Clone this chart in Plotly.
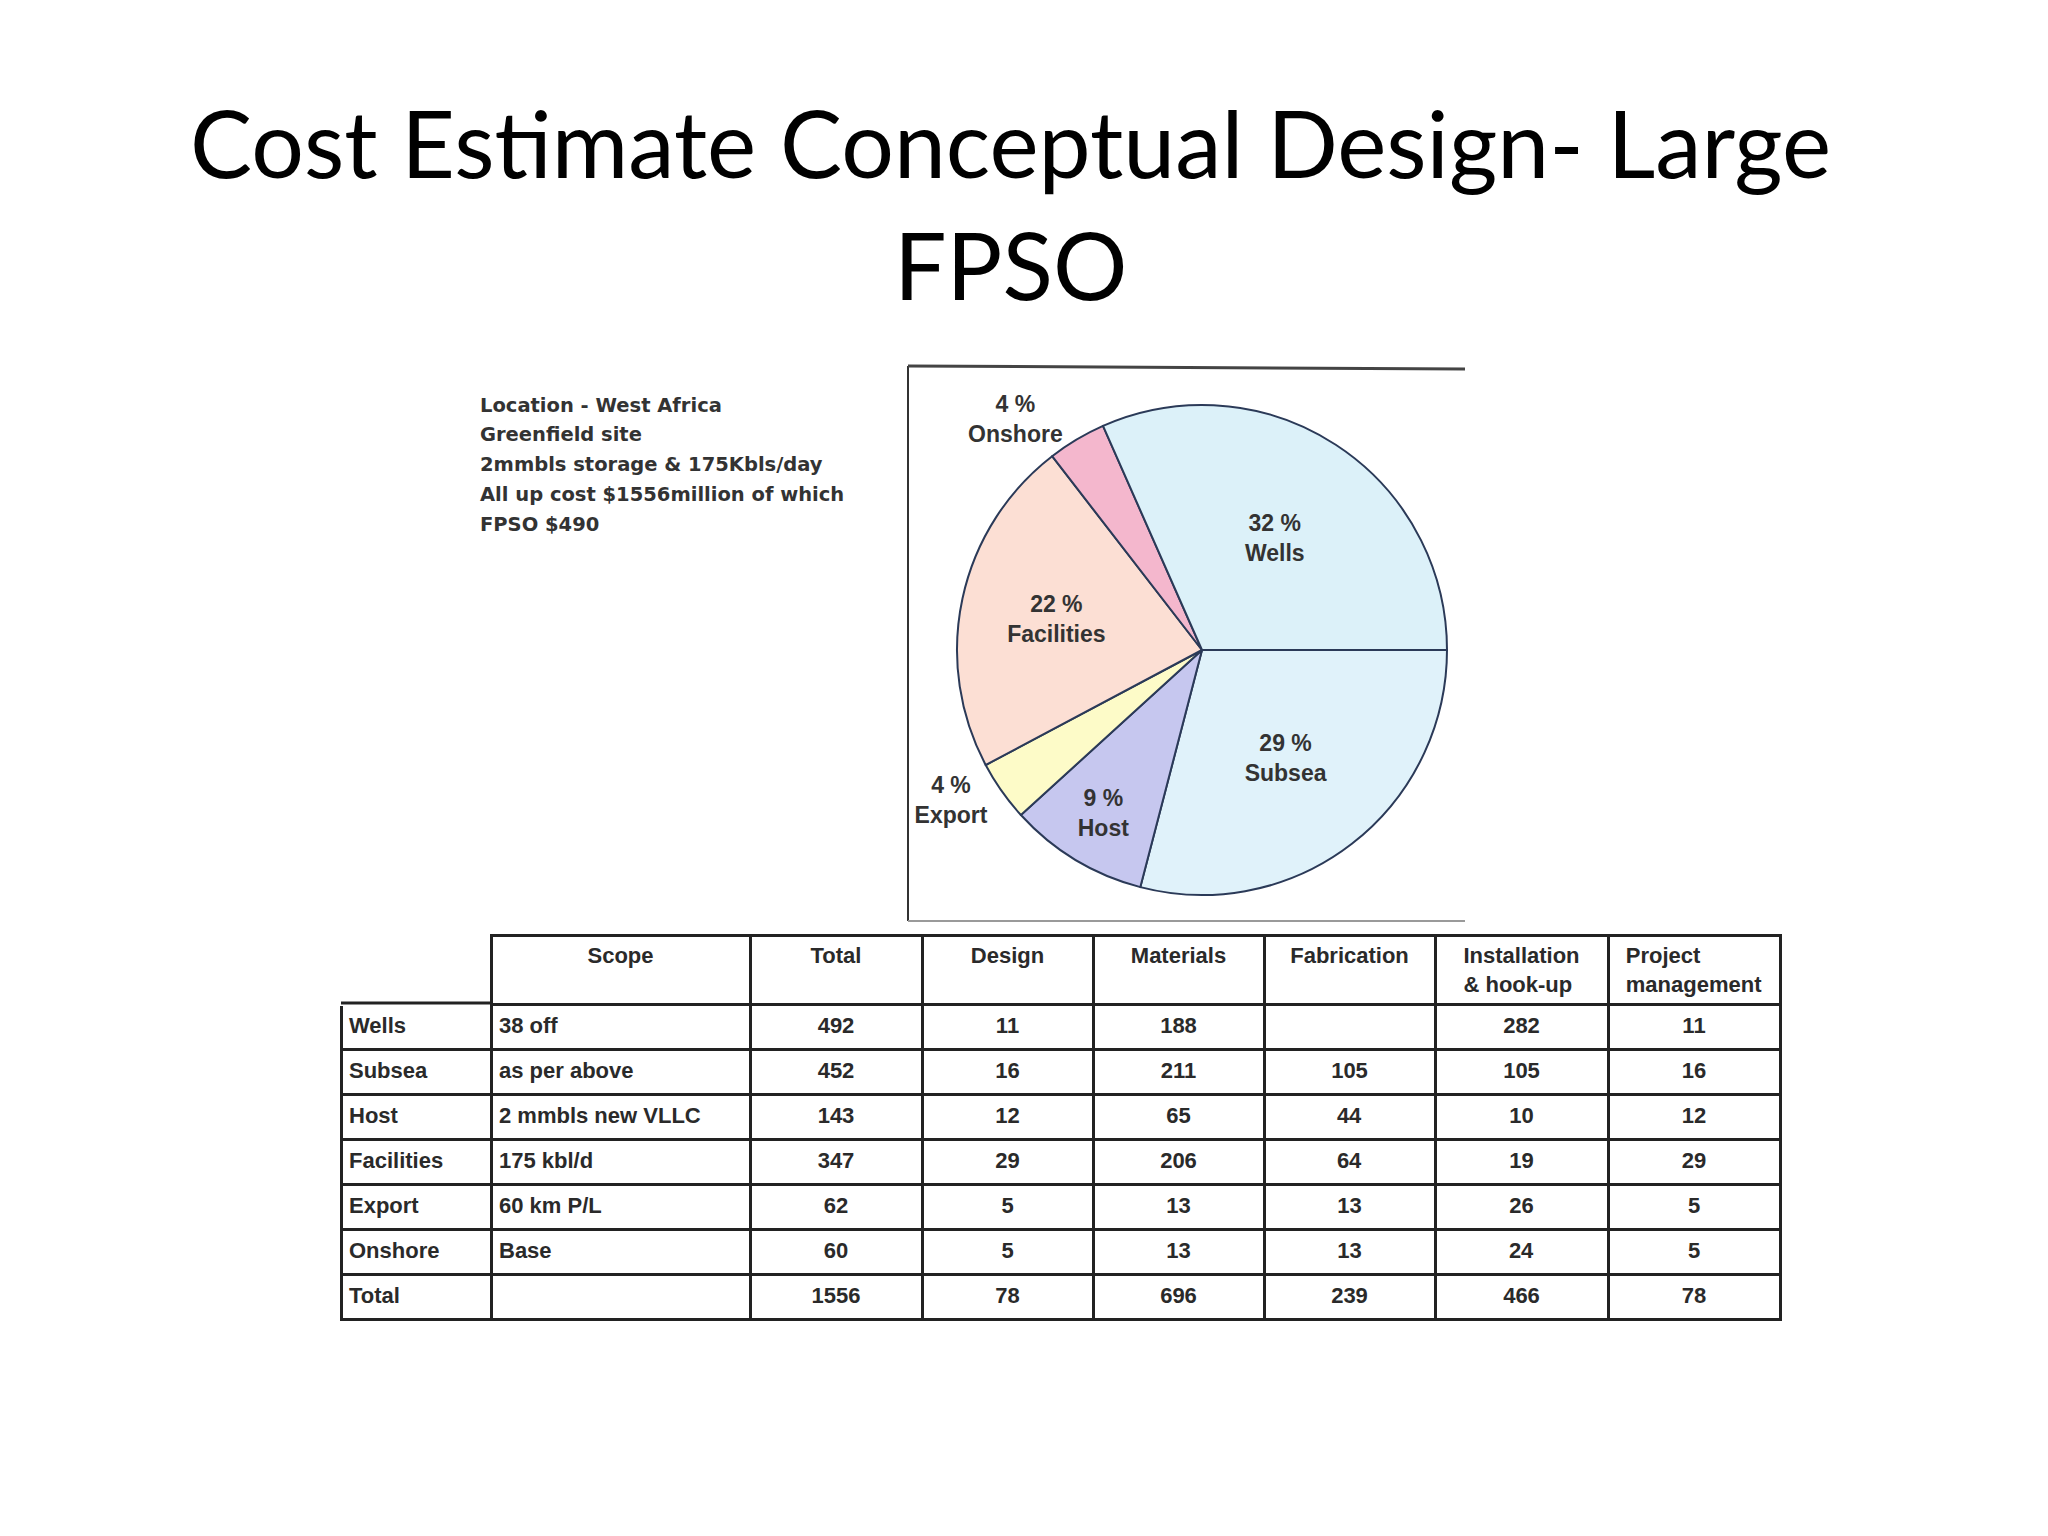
import plotly.graph_objects as go

W, H = 2048, 1536

# ---------------- data ----------------
title_lines = ["Cost Estimate Conceptual Design- Large", "FPSO"]
info_lines = [
    "Location - West Africa",
    "Greenfield site",
    "2mmbls storage & 175Kbls/day",
    "All up cost $1556million of which",
    "FPSO $490",
]

# pie (clockwise from 3 o'clock)
pie_labels = ["Subsea", "Host", "Export", "Facilities", "Onshore", "Wells"]
pie_values = [452, 143, 62, 347, 60, 492]
pie_colors = ["#e0f2fa", "#c6c7ef", "#fdfbc8", "#fcdfd4", "#f4b7cd", "#dcf1f9"]
pie_textpos = ["inside", "inside", "outside", "inside", "outside", "inside"]

# table
table_header = ["", "Scope", "Total", "Design", "Materials", "Fabrication",
                "Installation<br>& hook-up", "Project<br>management"]
row_names = ["Wells", "Subsea", "Host", "Facilities", "Export", "Onshore", "Total"]
scope = ["38 off", "as per above", "2 mmbls new VLLC", "175 kbl/d", "60 km P/L", "Base", ""]
total = [492, 452, 143, 347, 62, 60, 1556]
design = [11, 16, 12, 29, 5, 5, 78]
materials = [188, 211, 65, 206, 13, 13, 696]
fabrication = ["", 105, 44, 64, 13, 13, 239]
installation = [282, 105, 10, 19, 26, 24, 466]
project_mgmt = [11, 16, 12, 29, 5, 5, 78]
col_widths = [150, 259, 172, 171, 171, 171, 173, 172]


def px(x):
    return x / W


def py(y):
    return 1 - y / H


fig = go.Figure()

# ---------------- pie ----------------
tot = sum(pie_values)
pie_text = [f"<b>{round(v / tot * 100)} %<br>{l}</b>" for l, v in zip(pie_labels, pie_values)]
cx, cy, r = 1202, 650, 245
fig.add_trace(go.Pie(
    labels=pie_labels,
    values=pie_values,
    text=pie_text,
    textinfo="text",
    textposition=pie_textpos,
    insidetextorientation="horizontal",
    sort=False,
    direction="clockwise",
    rotation=90,
    marker=dict(colors=pie_colors, line=dict(color="#2b3a58", width=2)),
    textfont=dict(family="Liberation Sans, Arial", size=23, color="#333333"),
    domain=dict(x=[px(cx - r), px(cx + r)], y=[py(cy + r), py(cy - r)]),
    showlegend=False,
    hoverinfo="label+value+percent",
))

# ---------------- table ----------------
dark = "#222222"
tfont = dict(family="Liberation Sans, Arial", size=22, color="#2a2a2a")
header_h = 68
table_top = 935
fig.add_trace(go.Table(
    columnwidth=col_widths,
    domain=dict(x=[px(341), px(1780)], y=[0.0, py(table_top)]),
    header=dict(
        values=[f"<b>{h}</b>" if h else "" for h in table_header],
        align="center",
        height=header_h,
        fill=dict(color="white"),
        line=dict(color=["white"] + [dark] * 7, width=3),
        font=tfont,
    ),
    cells=dict(
        values=[[f"<b>{v}</b>" for v in col] for col in
                [row_names, scope, total, design, materials, fabrication,
                 installation, project_mgmt]],
        align=["left", "left"] + ["center"] * 6,
        height=45,
        fill=dict(color="white"),
        line=dict(color=dark, width=3),
        font=tfont,
    ),
))

# ---------------- frame around pie + table corner ----------------
shapes = [
    dict(type="line", xref="paper", yref="paper",
         x0=px(908), x1=px(908), y0=py(366), y1=py(921),
         line=dict(color="#333333", width=2)),
    dict(type="line", xref="paper", yref="paper",
         x0=px(908), x1=px(1465), y0=py(366), y1=py(369),
         line=dict(color="#444444", width=3)),
    dict(type="line", xref="paper", yref="paper",
         x0=px(908), x1=px(1465), y0=py(921), y1=py(921),
         line=dict(color="#9a9a9a", width=2)),
    dict(type="line", xref="paper", yref="paper", layer="above",
         x0=px(341), x1=px(493), y0=py(table_top + header_h), y1=py(table_top + header_h),
         line=dict(color=dark, width=3)),
]

# ---------------- annotations ----------------
annotations = []
title_y = [142, 264]
for line, yy in zip(title_lines, title_y):
    annotations.append(dict(
        text=line, xref="paper", yref="paper", x=px(1010), y=py(yy),
        xanchor="center", yanchor="middle", showarrow=False,
        font=dict(family="Lato, Open Sans", size=93, color="black"),
    ))

for i, line in enumerate(info_lines):
    annotations.append(dict(
        text=f"<b>{line}</b>", xref="paper", yref="paper", x=px(478), y=py(405 + i * 29.8),
        xanchor="left", yanchor="middle", showarrow=False,
        font=dict(family="DejaVu Sans", size=19.5, color="#333333"),
    ))

fig.update_layout(
    width=W, height=H,
    margin=dict(l=0, r=0, t=0, b=0),
    paper_bgcolor="white",
    plot_bgcolor="white",
    shapes=shapes,
    annotations=annotations,
)

fig.write_html("out.html")
